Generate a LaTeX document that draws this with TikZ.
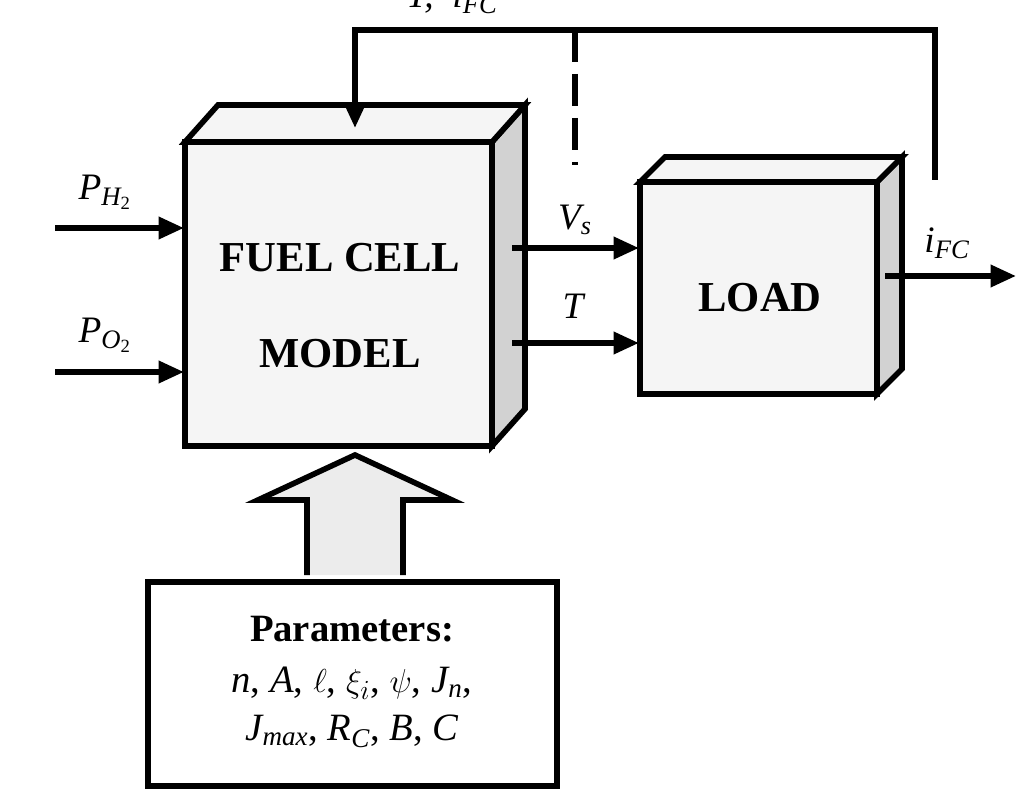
\documentclass[tikz,border=0pt]{standalone}
\usepackage{fontspec}
\setmainfont{Liberation Serif}
\usetikzlibrary{arrows.meta}
\begin{document}
\begin{tikzpicture}[x=0.75pt,y=-0.75pt,
line width=4.2pt,
face/.style={draw=black,fill=gray!8,line join=miter},
side/.style={draw=black,fill=gray!35,line join=miter},
sig/.style={-{Triangle[length=19pt,width=16pt]},line width=4.2pt},
lbl/.style={font=\fontsize{28}{30}\selectfont\itshape},
sub/.style={font=\fontsize{20}{22}\selectfont},
title/.style={font=\fontsize{32}{36}\selectfont\bfseries,align=center}
]
\useasboundingbox (0,0) rectangle (1026,792);
% fuel cell block
\draw[side] (492,142) -- (525,105) -- (525,409) -- (492,446) -- cycle;
\draw[face] (185,142) -- (218,105) -- (525,105) -- (492,142) -- cycle;
\draw[face] (185,142) rectangle (492,446);
\node[title] (fc) at (340,258) {FUEL CELL};
\node[title] (model) at (340,354) {MODEL};
\coordinate (fctop) at (355,128);
% load block
\draw[side] (877,182) -- (902,157) -- (902,369) -- (877,394) -- cycle;
\draw[face] (640,182) -- (665,157) -- (902,157) -- (877,182) -- cycle;
\draw[face] (640,182) rectangle (877,394);
\node[title] (load) at (760,298) {LOAD};
% inputs
\coordinate (ph) at (55,228);
\coordinate (po) at (55,372);
\draw[sig] (ph) -- (184,228);
\draw[sig] (po) -- (184,372);
\node[lbl] (phl) at (105,192) {P\textsubscript{\fontsize{20}{22}\selectfont H\textsubscript{\upshape 2}}};
\node[lbl] (pol) at (105,335) {P\textsubscript{\fontsize{20}{22}\selectfont O\textsubscript{\upshape 2}}};
% outputs
\draw[sig] (512,248) -- (639,248);
\draw[sig] (512,343) -- (639,343);
\node[lbl] (vs) at (575,220) {V\textsubscript{s}};
\node[lbl] (t) at (573,306) {T};
\coordinate (out) at (1016,276);
\draw[sig] (885,276) -- (out);
\node[lbl] (ifc) at (947,243) {i\textsubscript{\fontsize{20}{22}\selectfont FC}};
% feedback
\coordinate (fb) at (935,180);
\draw[line join=miter] (fb) |- (575,30) -| (355,100);
\draw[sig] (355,95) -- (fctop);
\draw[dash pattern=on 24pt off 9pt] (575,30) -- (575,165);
\node[lbl] (fbl) at (452,-2) {T,\ \ i\textsubscript{\fontsize{20}{22}\selectfont FC}};
% parameter arrow and box
\draw[face,fill=gray!15] (307,575) -- (307,500) -- (258,500) -- (355,455) -- (452,500) -- (403,500) -- (403,575);
\draw (148,582) rectangle (557,786);
\node[font=\fontsize{29}{36}\selectfont,align=center] (par) at (352,682)
{\textbf{Parameters:}\\[2pt] \textit{n}, \textit{A}, $\ell$, $\xi_i$, $\psi$, \textit{J\textsubscript{n}},\\ \textit{J\textsubscript{max}}, \textit{R\textsubscript{C}}, \textit{B}, \textit{C}};
\end{tikzpicture}
\end{document}
